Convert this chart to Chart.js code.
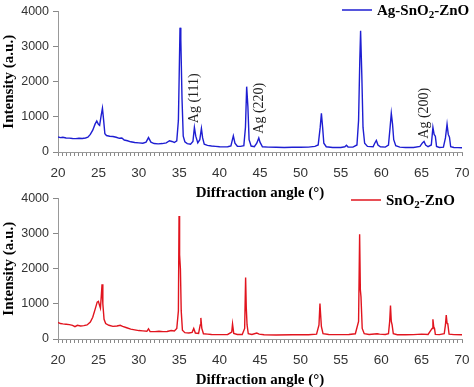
<!DOCTYPE html>
<html>
<head>
<meta charset="utf-8">
<script src="https://cdn.jsdelivr.net/npm/chart.js@4/dist/chart.umd.min.js"></script>
<style>
  body { margin: 0; background: #fff; }
  #wrap { position: relative; width: 474px; height: 387px; overflow: hidden; }
  canvas { position: absolute; left: 0; }
</style>
</head>
<body>
<div id="wrap">
  <canvas id="top" width="474" height="202" style="top:0"></canvas>
  <canvas id="bottom" width="474" height="202" style="top:187px"></canvas>
</div>
<script>
// 2-theta angles and intensities, Ag-SnO2-ZnO (blue)
const agAngles = [20.0,20.3,20.6,21.0,21.4,21.8,22.2,22.6,23.0,23.4,23.7,24.0,24.3,24.6,24.8,25.0,25.15,25.35,25.5,25.65,25.8,26.0,26.4,26.8,27.2,27.6,27.9,28.2,28.6,29.0,29.5,30.0,30.5,30.9,31.2,31.5,31.9,32.4,32.9,33.4,33.8,34.1,34.4,34.7,34.9,35.0,35.1,35.2,35.35,35.5,35.7,36.0,36.4,36.7,36.88,37.05,37.3,37.55,37.75,37.9,38.1,38.5,39.0,39.5,40.0,40.5,41.0,41.4,41.7,41.9,42.2,42.6,43.0,43.2,43.35,43.5,43.65,43.9,44.3,44.6,44.85,45.0,45.3,46.0,47.0,48.0,49.0,50.0,51.0,51.8,52.2,52.45,52.6,52.75,52.9,53.2,54.0,55.0,55.5,55.7,55.9,56.5,57.0,57.2,57.35,57.45,57.6,57.75,57.95,58.3,59.0,59.2,59.4,59.6,59.9,60.5,60.9,61.1,61.25,61.4,61.55,61.8,62.3,63.0,64.0,64.8,65.1,65.3,65.5,65.8,66.2,66.4,66.55,66.7,66.85,67.2,67.7,67.95,68.15,68.3,68.45,68.6,69.0,69.5,70.0];
const agIntensity = [430,410,420,400,395,385,380,390,385,400,420,500,620,800,880,790,760,1050,1250,900,520,470,450,440,420,390,400,340,320,290,270,260,250,280,410,280,240,230,240,260,320,300,270,320,900,2200,3540,3200,1500,450,290,240,220,300,700,450,260,350,670,400,220,190,170,160,150,145,150,170,460,250,165,160,180,700,1860,1300,350,170,150,250,400,280,150,140,135,130,135,135,140,160,200,700,1100,700,250,150,130,130,150,190,140,140,200,900,2600,3450,2200,700,250,160,150,250,330,200,150,140,200,700,1100,800,350,180,140,130,130,160,260,300,200,150,200,700,500,450,160,130,140,400,790,500,420,150,130,125,120];

// 2-theta angles and intensities, SnO2-ZnO (red)
const szAngles = [20.0,20.3,20.6,21.0,21.4,21.8,22.1,22.4,22.8,23.2,23.6,24.0,24.3,24.6,24.85,25.0,25.15,25.25,25.35,25.45,25.55,25.7,25.9,26.3,26.8,27.3,27.7,28.0,28.5,29.0,29.5,30.0,30.5,31.0,31.2,31.4,32.0,32.5,33.0,33.5,34.0,34.4,34.7,34.9,34.98,35.05,35.15,35.25,35.4,35.7,36.2,36.6,36.8,37.0,37.4,37.6,37.68,37.8,38.0,38.5,39.0,40.0,41.0,41.5,41.6,41.75,42.2,42.8,43.1,43.22,43.3,43.4,43.55,44.0,44.6,44.9,45.5,47.0,49.0,51.0,52.0,52.3,52.42,52.5,52.6,52.8,53.5,55.0,56.0,56.8,57.2,57.33,57.42,57.5,57.65,57.9,58.5,59.5,59.8,60.5,60.9,61.05,61.15,61.25,61.35,61.5,62.0,63.0,64.0,65.0,65.8,66.3,66.4,66.5,66.6,66.7,67.2,67.8,67.95,68.05,68.15,68.25,68.4,69.0,70.0];
const szIntensity = [470,440,430,420,410,390,350,390,370,380,400,480,620,850,1050,1070,950,880,1200,1560,1000,560,440,390,360,370,390,360,320,280,260,240,230,220,290,210,210,220,210,215,240,230,300,800,3500,2400,2000,800,250,180,170,190,300,170,160,400,600,300,150,140,130,125,130,200,430,160,130,130,300,1750,900,400,150,130,170,140,120,115,120,120,140,400,1010,700,350,150,130,125,130,150,500,2980,1400,1200,300,150,130,150,140,130,150,500,950,500,400,150,120,120,125,140,130,300,560,350,300,130,125,150,400,680,450,420,140,125,120];

// peak annotations on the Ag-SnO2-ZnO pattern
const peakNames = ['Ag (111)', 'Ag (220)', 'Ag (200)'];
const peakAngles = [36.9, 44.9, 65.3];
const peakHeights = [820, 520, 380];

const yTicks = [0, 1000, 2000, 3000, 4000];

const serif = '"Times New Roman", "Liberation Serif", serif';
const sans = 'Arial, "Liberation Sans", sans-serif';

// legend drawn as line + text with subscript
const legendLine = {
  id: 'legendLine',
  afterDraw(chart, args, opts) {
    const ctx = chart.ctx;
    ctx.save();
    ctx.strokeStyle = opts.color;
    ctx.lineWidth = 1.5;
    ctx.beginPath();
    ctx.moveTo(opts.x, opts.y);
    ctx.lineTo(opts.x + opts.len, opts.y);
    ctx.stroke();
    ctx.fillStyle = '#000';
    ctx.textBaseline = 'middle';
    let x = opts.x + opts.len + 5;
    opts.parts.forEach((p, i) => {
      const sub = i % 2 === 1;
      ctx.font = 'bold ' + (sub ? 11 : 15) + 'px ' + serif;
      ctx.fillText(p, x, opts.y + (sub ? 5 : 1));
      x += ctx.measureText(p).width;
    });
    ctx.restore();
  }
};

const peakText = {
  id: 'peakText',
  afterDatasetsDraw(chart, args, opts) {
    if (!opts.show) return;
    const ctx = chart.ctx;
    const xs = chart.scales.x, ys = chart.scales.y;
    ctx.save();
    ctx.fillStyle = '#222';
    ctx.font = '14px ' + serif;
    ctx.textAlign = 'left';
    ctx.textBaseline = 'middle';
    peakNames.forEach((t, i) => {
      ctx.save();
      ctx.translate(xs.getPixelForValue(peakAngles[i]), ys.getPixelForValue(peakHeights[i]));
      ctx.rotate(-Math.PI / 2);
      ctx.fillText(t, 0, 0);
      ctx.restore();
    });
    ctx.restore();
  }
};

function makeChart(id, angles, values, color, parts, legendX, legendY, showPeaks) {
  return new Chart(document.getElementById(id), {
    type: 'line',
    data: {
      datasets: [{
        data: angles.map((a, i) => ({ x: a, y: values[i] })),
        borderColor: color,
        borderWidth: 1.4,
        pointRadius: 0,
        tension: 0,
        fill: false
      }]
    },
    options: {
      responsive: false,
      animation: false,
      layout: { padding: { top: 6, right: 12, left: 0, bottom: 0 } },
      plugins: {
        legend: { display: false },
        tooltip: { enabled: false },
        legendLine: { color: color, parts: parts, x: legendX, y: legendY, len: 30 },
        peakText: { show: showPeaks }
      },
      scales: {
        x: {
          type: 'linear',
          min: 20, max: 70,
          grid: { display: true, drawOnChartArea: false, tickLength: 4, color: '#888' },
          border: { color: '#999', width: 1 },
          ticks: {
            stepSize: 0.5,
            autoSkip: false,
            maxRotation: 0,
            padding: 9,
            color: '#333',
            font: { family: sans, size: 13.5 },
            callback: v => (v % 5 === 0 ? v : '')
          },
          title: {
            display: true,
            text: 'Diffraction angle (°)',
            color: '#000',
            font: { family: serif, size: 15, weight: 'bold' },
            padding: { top: 2, bottom: 0 }
          },
          afterFit: s => { s.height = 50; s.paddingLeft = 0; s.paddingRight = 0; }
        },
        y: {
          min: 0, max: 4000,
          grid: { display: true, drawOnChartArea: false, tickLength: 5, color: '#888' },
          border: { color: '#999', width: 1 },
          ticks: {
            stepSize: 500,
            color: '#333',
            padding: 4,
            font: { family: sans, size: 12.5 },
            callback: v => (yTicks.includes(v) ? v : '')
          },
          title: {
            display: true,
            text: 'Intensity (a.u.)',
            color: '#000',
            font: { family: serif, size: 15, weight: 'bold' },
            padding: { top: 0, bottom: 0 }
          },
          afterFit: s => { s.width = 58; }
        }
      }
    },
    plugins: [legendLine, peakText]
  });
}

makeChart('top', agAngles, agIntensity, 'rgb(30, 30, 210)', ['Ag-SnO', '2', '-ZnO'], 342, 10, true);
makeChart('bottom', szAngles, szIntensity, 'rgb(225, 20, 30)', ['SnO', '2', '-ZnO'], 351, 13, false);
</script>
</body>
</html>
